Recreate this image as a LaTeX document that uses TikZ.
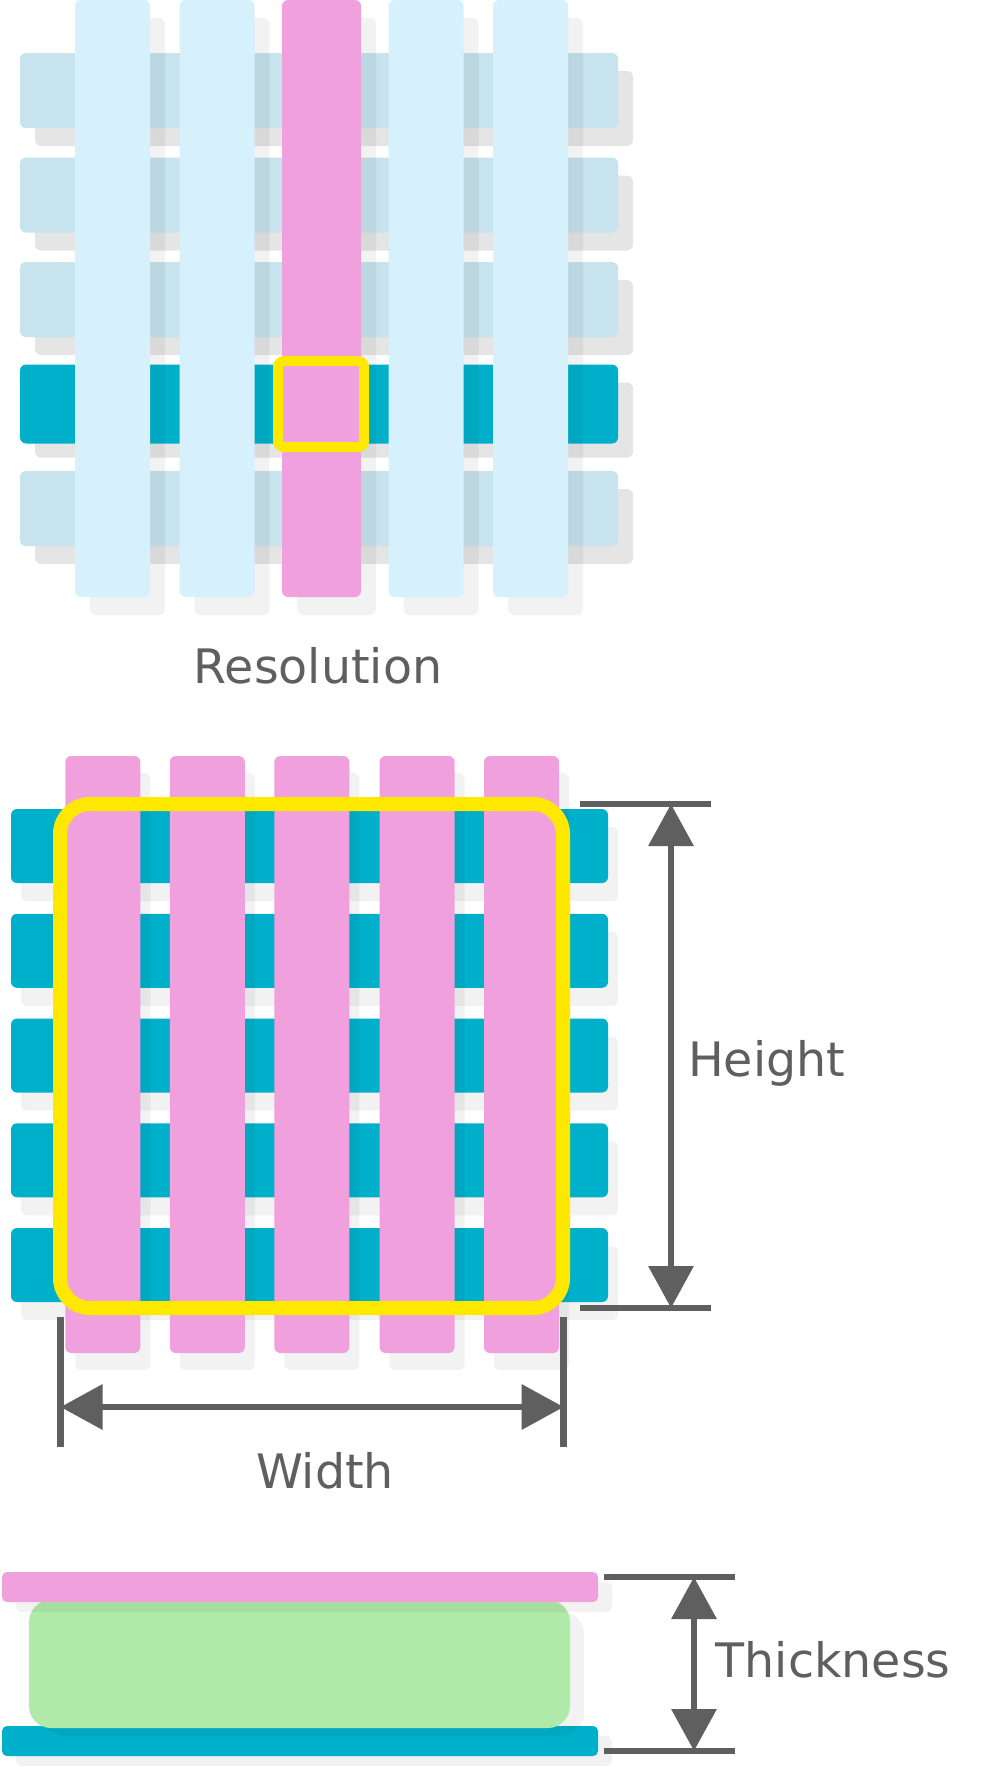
\documentclass[tikz,border=0pt]{standalone}
\usepackage{fontspec}
\newfontfamily\dejavu{DejaVu Sans}
\usetikzlibrary{arrows.meta}
\definecolor{lightH}{HTML}{C7E3ED}
\definecolor{lightV}{HTML}{D6F1FC}
\definecolor{pinkS}{HTML}{F0A0DC}
\definecolor{tealS}{HTML}{00B0CB}
\definecolor{yellowS}{HTML}{FFE800}
\definecolor{greenS}{HTML}{B0EAA8}
\definecolor{dimgray}{HTML}{5F5F5F}
\tikzset{
  strip/.style={rounded corners=6pt},
  shadowA/.style={fill=black, fill opacity=0.10, rounded corners=6pt},
  shadowB/.style={fill=black, fill opacity=0.05, rounded corners=6pt},
  dimbar/.style={draw=dimgray, line width=6.5pt},
  dimarrow/.style={draw=dimgray, line width=6.5pt,
     {Triangle[length=42pt,width=44pt]}-{Triangle[length=42pt,width=44pt]}},
  lbl/.style={text=dimgray, font=\dejavu\fontsize{47.5}{57}\selectfont, inner sep=0pt}
}
\begin{document}
\begin{tikzpicture}[x=1pt,y=-1pt]
\useasboundingbox (0,0) rectangle (1000,1767);
\fill[white] (0,0) rectangle (1000,1767);

% ================= TOP: Resolution =================
% row shadows
\foreach \y in {53,157.5,262,364.5,471}
  \fill[shadowA] (35,\y+18) rectangle (633,\y+93);
% rows
\foreach \y in {53,157.5,262,471}
  \fill[lightH,strip] (20,\y) rectangle (618,\y+75);
\fill[tealS,strip] (20,364.5) rectangle (618,443.5);
% column shadows
\foreach \x in {75,179.5,388.5,493}
  \fill[shadowB] (\x+15,18) rectangle (\x+90,615);
\fill[shadowB] (297,18) rectangle (376,615);
% columns
\foreach \x in {75,179.5,388.5,493}
  \fill[lightV,strip] (\x,0) rectangle (\x+75,597);
\fill[pinkS,strip] (282,0) rectangle (361,597);
% highlight
\draw[yellowS,line width=10pt,rounded corners=6pt] (278,361) rectangle (364,447);
\node[lbl,anchor=base] (res) at (318,683) {Resolution};

% ================= MIDDLE: Width / Height =================
\foreach \y in {809,913.75,1018.5,1123.25,1228}
  \fill[shadowB] (21,\y+18) rectangle (618,\y+92);
\foreach \y in {809,913.75,1018.5,1123.25,1228}
  \fill[tealS,strip] (11,\y) rectangle (608,\y+74);
\foreach \x in {65.3,169.8,274.3,379.6,484}
  \fill[shadowB] (\x+10,773) rectangle (\x+85,1370);
\foreach \x in {65.3,169.8,274.3,379.6,484}
  \fill[pinkS,strip] (\x,756) rectangle (\x+75,1353);
\draw[yellowS,line width=14pt,rounded corners=30pt] (60,804) rectangle (563,1308);

% Height dimension
\coordinate (hT) at (671,804);
\coordinate (hB) at (671,1308);
\coordinate (hTl) at (580,804);  \coordinate (hTr) at (711,804);
\coordinate (hBl) at (580,1308); \coordinate (hBr) at (711,1308);
\draw[dimbar] (hTl) -- (hTr);
\draw[dimbar] (hBl) -- (hBr);
\draw[dimarrow] (hT) -- (hB);
\node[lbl,anchor=base west] (height) at (688,1076) {Height};

% Width dimension
\coordinate (wL) at (60.5,1407);
\coordinate (wR) at (563.7,1407);
\coordinate (wLt) at (60.5,1317); \coordinate (wLb) at (60.5,1447);
\coordinate (wRt) at (563.7,1317); \coordinate (wRb) at (563.7,1447);
\draw[dimbar] (wLt) -- (wLb);
\draw[dimbar] (wRt) -- (wRb);
\draw[dimarrow] (wL) -- (wR);
\node[lbl,anchor=base] (width) at (325,1488) {Width};

% ================= BOTTOM: Thickness =================
\fill[shadowB] (16,1736) rectangle (612,1766);
\fill[tealS,rounded corners=5pt] (2,1726) rectangle (598,1756);
\fill[shadowB,rounded corners=22pt] (43,1612) rectangle (584,1736);
\fill[greenS,rounded corners=22pt] (29,1600) rectangle (570,1728);
\fill[shadowB] (16,1582) rectangle (612,1612);
\fill[pinkS,rounded corners=5pt] (2,1572) rectangle (598,1602);

\coordinate (tT) at (694,1577);
\coordinate (tB) at (694,1751);
\coordinate (tTl) at (604,1577); \coordinate (tTr) at (735,1577);
\coordinate (tBl) at (604,1751); \coordinate (tBr) at (735,1751);
\draw[dimbar] (tTl) -- (tTr);
\draw[dimbar] (tBl) -- (tBr);
\draw[dimarrow] (tT) -- (tB);
\node[lbl,anchor=base west] (thick) at (715.5,1677) {Thickness};
\end{tikzpicture}
\end{document}
